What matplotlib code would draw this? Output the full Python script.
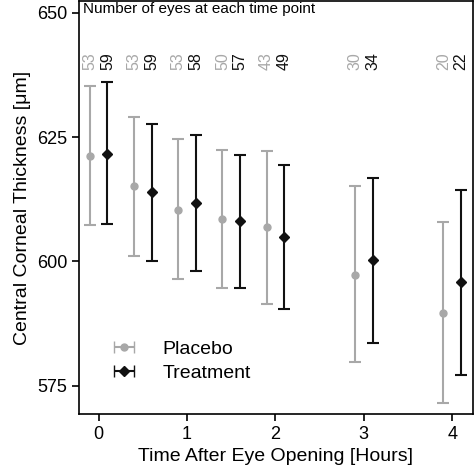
import matplotlib
matplotlib.use("Agg")
import matplotlib.pyplot as plt
import numpy as np

times = [0, 0.5, 1, 1.5, 2, 3, 4]
placebo_mean = [621.3, 615.1, 610.4, 608.6, 606.9, 597.3, 589.7]
placebo_hi = [635.3, 629.1, 624.6, 622.5, 622.2, 615.1, 608.0]
placebo_lo = [607.3, 601.0, 596.4, 594.7, 591.5, 579.7, 571.5]
treat_mean = [621.7, 613.9, 611.7, 608.1, 604.9, 600.2, 595.8]
treat_hi = [636.0, 627.7, 625.5, 621.5, 619.4, 616.8, 614.4]
treat_lo = [607.6, 600.1, 598.0, 594.6, 590.5, 583.6, 577.2]
placebo_n = [53, 53, 53, 50, 43, 30, 20]
treat_n = [59, 59, 58, 57, 49, 34, 22]

grey = "#a8a8a8"
black = "#111111"
plt.rcParams["font.family"] = ["Liberation Sans", "DejaVu Sans"]

fig = plt.figure(figsize=(4.74, 4.69), dpi=100)
ax = fig.add_axes([0.167, 0.117, 0.83, 0.88])

t = np.array(times)
pm = np.array(placebo_mean)
tm = np.array(treat_mean)
ax.errorbar(t - 0.1, pm, yerr=[pm - placebo_lo, np.array(placebo_hi) - pm],
            fmt="o", color=grey, ms=5, capsize=4, elinewidth=1.5, capthick=1.5)
ax.errorbar(t + 0.1, tm, yerr=[tm - treat_lo, np.array(treat_hi) - tm],
            fmt="D", color=black, ms=5, capsize=4, elinewidth=1.5, capthick=1.5)

for x, n in zip(t, placebo_n):
    ax.text(x - 0.1, 640.3, str(n), rotation=90, ha="center", va="center",
            color=grey, fontsize=11.5)
for x, n in zip(t, treat_n):
    ax.text(x + 0.1, 640.3, str(n), rotation=90, ha="center", va="center",
            color=black, fontsize=11.5)
ax.text(0.01, 0.998, "Number of eyes at each time point", transform=ax.transAxes,
        ha="left", va="top", fontsize=11)

# legend handles with horizontal error bars
hp = ax.errorbar([np.nan], [np.nan], xerr=[1], fmt="o", color=grey, ms=5,
                 capsize=4, elinewidth=1.5)
ht = ax.errorbar([np.nan], [np.nan], xerr=[1], fmt="D", color=black, ms=5,
                 capsize=4, elinewidth=1.5)
ax.legend([hp, ht], ["Placebo", "Treatment"], loc="lower left", frameon=False,
          fontsize=14, handlelength=2.8, handletextpad=0.6,
          bbox_to_anchor=(0.0, 0.035), labelspacing=0.35)

ax.set_xlim(-0.22, 4.23)
ax.set_ylim(569.3, 652.3)
ax.set_xticks([0, 1, 2, 3, 4])
ax.set_yticks([575, 600, 625, 650])
ax.tick_params(labelsize=13, length=5, width=1.2)
for s in ax.spines.values():
    s.set_linewidth(1.2)
ax.set_xlabel("Time After Eye Opening [Hours]", fontsize=14)
ax.set_ylabel("Central Corneal Thickness [\u03bcm]", fontsize=14)

fig.savefig("out.png", dpi=100)
